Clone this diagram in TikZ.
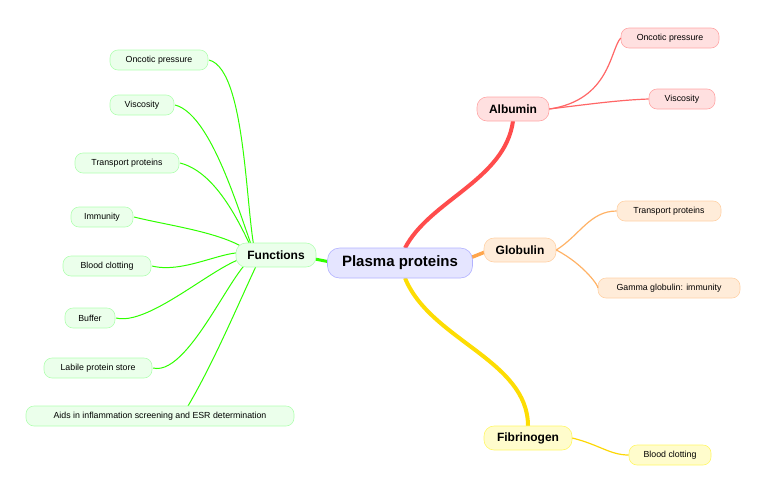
\documentclass[tikz,border=0pt]{standalone}
\usepackage{fontspec}
\setmainfont{Liberation Sans}
\begin{document}
\begin{tikzpicture}[x=1pt,y=-1pt,
 box/.style={rounded corners=8pt,draw,line width=0.6pt,inner sep=0pt,minimum height=20pt,font=\fontsize{8.8}{10}\selectfont},
 main/.style={rounded corners=10pt,draw,line width=0.6pt,inner sep=0pt,minimum height=24pt,font=\fontsize{12}{14}\selectfont\bfseries},
 gl/.style={box,fill=green!8,draw=green!30},
 rl/.style={box,fill=red!12,draw=red!35},
 ol/.style={box,fill=orange!15,draw=orange!35},
 yl/.style={box,fill=yellow!20,draw=yellow!60},
 ge/.style={draw=green!75!lime,line width=1pt},
 re/.style={draw=red!60,line width=1.2pt},
 oe/.style={draw=orange!60,line width=1.2pt},
 ye/.style={draw=yellow!75!orange,line width=1.2pt}]
\useasboundingbox (0,0) rectangle (768,493);
\coordinate (fj) at (258,262);
\foreach \n/\x/\y in {l1/209/60,l2/175/105,l3/180/163,l4/134/217,l5/152/266,l6/116/318,l7/153/368}{
 \draw[ge] (\x,\y) .. controls +(40,10) and (245,235) .. (fj);}
\draw[ge] (188,406) .. controls (215,360) and (240,300) .. (fj);
\draw[draw=green!75!lime,line width=3pt] (330,262) -- (300,256);
\draw[draw=red!70,line width=4pt] (405,248) .. controls (430,200) and (505,180) .. (513,121);
\draw[draw=orange!70,line width=3.5pt] (470,258) -- (485,252);
\draw[draw=yellow!80!orange,line width=4pt] (405,278) .. controls (430,340) and (528,360) .. (528,426);
\node[rounded corners=12pt,draw=blue!30,fill=blue!10,line width=0.6pt,minimum width=145pt,minimum height=30pt,font=\fontsize{15}{18}\selectfont\bfseries] (c) at (400,263) {Plasma proteins};
\node[main,fill=green!8,draw=green!30,minimum width=80pt] (f) at (276,255) {Functions};
\node[main,fill=red!12,draw=red!35,minimum width=72pt] (a) at (513,109) {Albumin};
\node[main,fill=orange!15,draw=orange!35,minimum width=72pt] (g) at (520,250) {Globulin};
\node[main,fill=yellow!20,draw=yellow!60,minimum width=88pt] (b) at (528,438) {Fibrinogen};
\node[rl,minimum width=98pt] (a1) at (670,38) {Oncotic pressure};
\node[rl,minimum width=66pt] (a2) at (682,99) {Viscosity};
\node[ol,minimum width=104pt] (g1) at (669,211) {Transport proteins};
\node[ol,minimum width=142pt] (g2) at (669,288) {Gamma globulin: immunity};
\node[yl,minimum width=82pt] (b1) at (670,455) {Blood clotting};
\node[gl,minimum width=98pt] (l1) at (159,60) {Oncotic pressure};
\node[gl,minimum width=64pt] (l2) at (142,105) {Viscosity};
\node[gl,minimum width=104pt] (l3) at (127,163) {Transport proteins};
\node[gl,minimum width=62pt] (l4) at (102,217) {Immunity};
\node[gl,minimum width=88pt] (l5) at (107,266) {Blood clotting};
\node[gl,minimum width=50pt] (l6) at (90,318) {Buffer};
\node[gl,minimum width=108pt] (l7) at (98,368) {Labile protein store};
\node[gl,minimum width=268pt] (l8) at (160,416) {Aids in inflammation screening and ESR determination};
\draw[re] (a.east) .. controls (610,100) and (610,50) .. (a1.west);
\draw[re] (a.east) .. controls (590,104) and (620,100) .. (a2.west);
\draw[oe] (g.east) .. controls (580,235) and (590,211) .. (g1.west);
\draw[oe] (g.east) .. controls (585,265) and (600,288) .. (g2.west);
\draw[ye] (b.east) .. controls (600,445) and (610,455) .. (b1.west);
\end{tikzpicture}
\end{document}
